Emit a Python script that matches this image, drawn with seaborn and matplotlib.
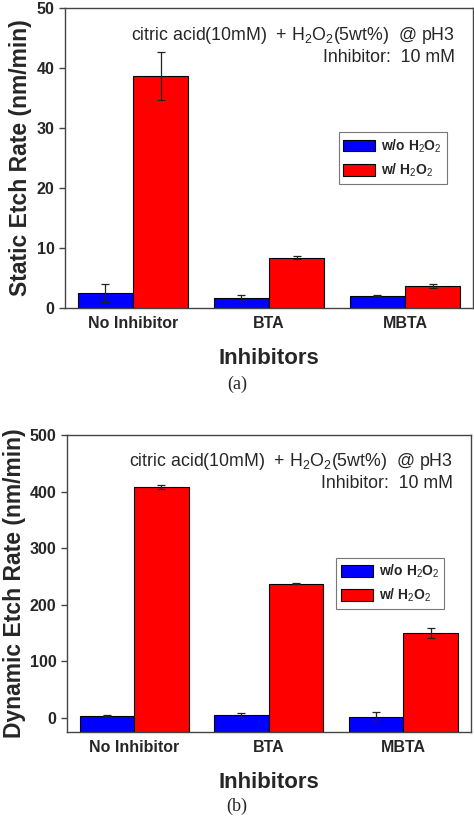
import pandas as pd
import matplotlib
matplotlib.use("Agg")
import matplotlib.pyplot as plt
import seaborn as sns

# datos
inhibitors = ["No Inhibitor", "BTA", "MBTA"]
conditions = ["w/o H$_2$O$_2$", "w/ H$_2$O$_2$"]

static_wo = [2.5, 1.6, 2.05]
static_wo_err = [1.5, 0.5, 0.05]
static_w = [38.7, 8.4, 3.7]
static_w_err = [4.0, 0.2, 0.3]

dynamic_wo = [3.5, 4.8, 2.0]
dynamic_wo_err = [1.0, 4.0, 8.0]
dynamic_w = [407.8, 237.0, 150.0]
dynamic_w_err = [3.0, 1.0, 9.0]

sns.set_style("white")
plt.rcParams["font.family"] = ["Liberation Sans", "DejaVu Sans"]
plt.rcParams["mathtext.fontset"] = "custom"
plt.rcParams["mathtext.rm"] = "Liberation Sans"
plt.rcParams["mathtext.bf"] = "Liberation Sans:bold"

palette = {conditions[0]: "#0000ff", conditions[1]: "#ff0000"}


def make_df(wo, wo_err, w, w_err):
    return pd.DataFrame({
        "inhibitor": inhibitors * 2,
        "cond": [conditions[0]] * 3 + [conditions[1]] * 3,
        "value": wo + w,
        "err": wo_err + w_err,
    })


def panel(ax, df, ylabel, ylim, yticks, letter):
    sns.barplot(data=df, x="inhibitor", y="value", hue="cond", palette=palette,
                errorbar=None, width=0.81, saturation=1, edgecolor="black",
                linewidth=0.8, ax=ax)
    bars = [p for p in ax.patches if p.get_width() > 0][:6]
    for p, (_, row) in zip(bars, df.iterrows()):
        # las barras arrancan desde el borde inferior del eje (como en Origin)
        top = p.get_y() + p.get_height()
        p.set_y(ylim[0])
        p.set_height(top - ylim[0])
        ax.errorbar(p.get_x() + p.get_width() / 2, row["value"], yerr=row["err"],
                    fmt="none", ecolor="#222222", elinewidth=0.9, capsize=3, capthick=0.9)
    ax.set_xlim(-0.5, 2.5)
    ax.set_ylim(*ylim)
    ax.set_yticks(yticks)
    for s in ax.spines.values():
        s.set_visible(True)
        s.set_color("#444444")
        s.set_linewidth(1.0)
    ax.tick_params(axis="y", direction="out", length=4, width=1, color="#444444",
                   labelsize=11.5, left=True)
    ax.tick_params(axis="x", length=0, labelsize=11.5, pad=6)
    for t in ax.get_xticklabels() + ax.get_yticklabels():
        t.set_fontweight("bold")
    ax.set_ylabel(ylabel, fontsize=16.5, fontweight="bold", labelpad=3)
    ax.set_xlabel("Inhibitors", fontsize=16, fontweight="bold", labelpad=12)
    ax.text(0.955, 0.945, "citric acid(10mM)  + H$_2$O$_2$(5wt%)  @ pH3",
            transform=ax.transAxes, ha="right", va="top", fontsize=12.8)
    ax.text(0.955, 0.865, "Inhibitor:  10 mM", transform=ax.transAxes,
            ha="right", va="top", fontsize=12.8)
    leg = ax.legend(loc="center right", bbox_to_anchor=(0.935, 0.5), frameon=True,
                    fancybox=False, edgecolor="#555555", fontsize=10,
                    handlelength=2.3, handleheight=0.9, borderpad=0.35,
                    labelspacing=0.5, handletextpad=0.4, borderaxespad=0)
    leg.get_frame().set_linewidth(0.8)
    for t in leg.get_texts():
        t.set_fontweight("bold")
    ax.text(0.5, letter[1], letter[0], transform=ax.figure.transFigure, ha="center",
            va="center", fontsize=13, family="Liberation Serif")


fig = plt.figure(figsize=(4.74, 8.16), dpi=100)
ax1 = fig.add_axes([0.137, 0.6225, 0.861, 0.3676])
ax2 = fig.add_axes([0.141, 0.103, 0.852, 0.364])

panel(ax1, make_df(static_wo, static_wo_err, static_w, static_w_err),
      "Static Etch Rate (nm/min)", (0, 50), [0, 10, 20, 30, 40, 50], ("(a)", 1 - 384 / 816))
panel(ax2, make_df(dynamic_wo, dynamic_wo_err, dynamic_w, dynamic_w_err),
      "Dynamic Etch Rate (nm/min)", (-25, 500), [0, 100, 200, 300, 400, 500], ("(b)", 1 - 806 / 816))

fig.savefig("out.png", dpi=100)
